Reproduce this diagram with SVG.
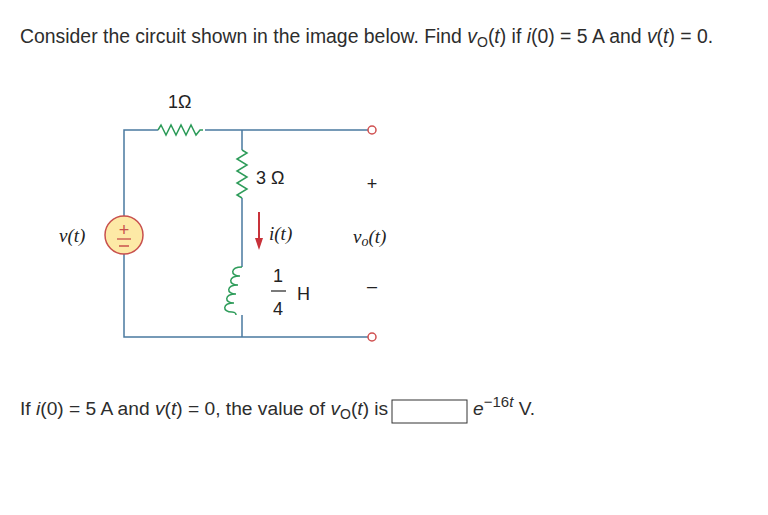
<svg xmlns="http://www.w3.org/2000/svg" width="768" height="515" viewBox="0 0 768 515">
<style>
.t{font-family:"Liberation Sans",Arial,sans-serif;font-size:19.4px;fill:#2d2d2d}
.b{font-family:"Liberation Sans",Arial,sans-serif;font-size:19.2px;fill:#2d2d2d}
.c{font-family:"Liberation Sans",Arial,sans-serif;font-size:18px;fill:#222}
.s{font-family:"Liberation Serif",serif;font-style:italic;font-size:19px;fill:#222}
.w{fill:none;stroke:#4a7aa0;stroke-width:1.5}
.g{fill:none;stroke:#2e9c5a;stroke-width:1.5}
</style>
<rect width="768" height="515" fill="#fff"/>
<text class="t" x="20" y="43">Consider the circuit shown in the image below. Find <tspan font-style="italic">v</tspan><tspan font-size="14" dy="4">O</tspan><tspan dy="-4">(</tspan><tspan font-style="italic">t</tspan>) if <tspan font-style="italic">i</tspan>(0) = 5 A and <tspan font-style="italic">v</tspan>(<tspan font-style="italic">t</tspan>) = 0.</text>
<g id="connectors">
<path class="w" d="M124,216 V130 H158 M205,130 H368 M242,130 V150 M242,198 V267 M242,315 V337 M124,254 V337 H368"/>
</g>
<g id="R1"><path class="g" d="M158,130 l3,-5 l5,10 l5,-10 l5,10 l5,-10 l5,10 l5,-10 l5,10 l4,-5 h3"/><text class="c" x="168" y="108">1Ω</text></g>
<g id="R3"><path class="g" d="M242,150 l5,3 l-10,6 l10,6 l-10,6 l10,6 l-10,6 l10,6 l-10,6 l5,3"/><text class="c" x="256" y="184">3 Ω</text></g>
<g id="L"><path class="g" d="M242,267 c-12,0 -12,9 -2,9 c-12,0 -12,9 -2,9 c-12,0 -12,9 -2,9 c-12,0 -12,9 -2,9 c-12,0 -12,9 -2,9 c4,0 4,3 4,3"/>
<text class="c" x="273" y="282">1</text><line x1="271" y1="291" x2="286" y2="291" stroke="#222" stroke-width="1.2"/><text class="c" x="273" y="315">4</text><text class="c" x="297" y="300">H</text></g>
<g id="src"><circle cx="124" cy="235" r="19" fill="#fde9a6" stroke="#c8504d" stroke-width="1.5"/>
<text x="124" y="236" text-anchor="middle" font-family="Liberation Sans,sans-serif" font-size="18" fill="#c8504d">+</text><line x1="119" y1="246" x2="129" y2="246" stroke="#c8504d" stroke-width="1.5"/><line x1="117" y1="239" x2="131" y2="239" stroke="#c8504d" stroke-width="1.3"/>
<text class="s" x="59" y="242">v(t)</text></g>
<g id="arrow"><line x1="259" y1="212" x2="259" y2="240" stroke="#c8323a" stroke-width="2"/><path d="M255,238 L263,238 L259,250 Z" fill="#c8323a"/><text class="s" x="269" y="240">i(t)</text></g>
<g id="terminals"><circle cx="372" cy="130" r="4" fill="#fff" stroke="#d05050" stroke-width="1.5"/><circle cx="372" cy="337" r="4" fill="#fff" stroke="#d05050" stroke-width="1.5"/>
<text class="c" x="372" y="190" text-anchor="middle">+</text><text class="s" x="353" y="243">v<tspan font-size="14" dy="3">o</tspan><tspan dy="-3">(t)</tspan></text><text class="c" x="372" y="292" text-anchor="middle">–</text></g>
<text class="b" x="20" y="415">If <tspan font-style="italic">i</tspan>(0) = 5 A and <tspan font-style="italic">v</tspan>(<tspan font-style="italic">t</tspan>) = 0, the value of <tspan font-style="italic">v</tspan><tspan font-size="14" dy="4">O</tspan><tspan dy="-4">(</tspan><tspan font-style="italic">t</tspan>) is</text>
<rect x="392" y="400" width="75" height="23" fill="#fff" stroke="#333" stroke-width="1"/>
<text class="b" x="473" y="415"><tspan font-style="italic">e</tspan><tspan font-size="15" dy="-8">−16<tspan font-style="italic">t</tspan></tspan><tspan dy="8"> V.</tspan></text>
</svg>
